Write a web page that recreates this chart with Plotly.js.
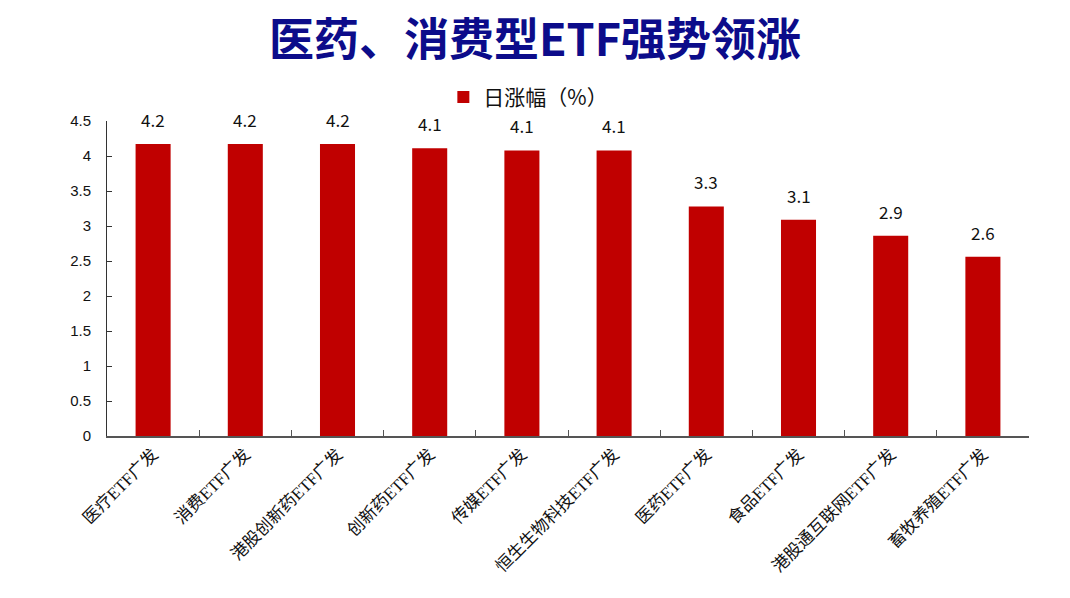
<!DOCTYPE html>
<html>
<head>
<meta charset="utf-8">
<script src="https://cdn.plot.ly/plotly-3.0.1.min.js"></script>
<style>
  html, body { margin: 0; padding: 0; background: #fff; }
  #chart { width: 1070px; height: 598px; }
</style>
</head>
<body>
<div id="chart"></div>
<script>
// fund names and daily change (%)
const funds = [
  "医疗ETF广发", "消费ETF广发", "港股创新药ETF广发", "创新药ETF广发", "传媒ETF广发",
  "恒生生物科技ETF广发", "医药ETF广发", "食品ETF广发", "港股通互联网ETF广发", "畜牧养殖ETF广发"
];
const dailyChange = [4.17, 4.17, 4.17, 4.11, 4.08, 4.08, 3.28, 3.09, 2.86, 2.56];
const yTicks = [0, 0.5, 1, 1.5, 2, 2.5, 3, 3.5, 4, 4.5];

const data = [{
  type: "bar",
  x: funds,
  y: dailyChange,
  name: "日涨幅（%）",
  marker: { color: "#c00000" },
  hoverinfo: "x+y",
}];

// value labels sit a bit higher above the bars than plotly's own text
const labels = funds.map((f, i) => ({
  x: f,
  y: dailyChange[i],
  text: dailyChange[i].toFixed(1),
  showarrow: false,
  yanchor: "bottom",
  yshift: 10,
  font: { family: "Noto Sans CJK SC, sans-serif", size: 17, color: "#111" },
}));

const layout = {
  width: 1070,
  height: 598,
  margin: { l: 107, r: 41, t: 121, b: 162 },
  paper_bgcolor: "#fff",
  plot_bgcolor: "#fff",
  showlegend: true,
  bargap: 0.62,
  annotations: labels,
  title: {
    text: "<b>医药、消费型ETF强势领涨</b>",
    x: 0.5,
    xanchor: "center",
    y: 0.933,
    yanchor: "middle",
    font: { family: "Noto Sans CJK SC, sans-serif", size: 45, color: "#0c0c8a" },
  },
  legend: {
    orientation: "h",
    x: 0.457,
    xanchor: "center",
    y: 1.075,
    yanchor: "middle",
    font: { family: "Noto Sans CJK SC, sans-serif", size: 21, color: "#111" },
    itemwidth: 30,
  },
  xaxis: {
    type: "category",
    tickangle: -45,
    tickson: "boundaries",
    ticks: "inside",
    ticklen: 6,
    tickcolor: "#555",
    showline: true,
    linecolor: "#555",
    linewidth: 1.5,
    showgrid: false,
    tickfont: { family: "Liberation Serif, Noto Sans CJK SC, serif", size: 17, color: "#111" },
    automargin: false,
  },
  yaxis: {
    range: [0, 4.5],
    tickvals: yTicks,
    ticktext: yTicks.map(String),
    ticks: "inside",
    ticklen: 5,
    tickcolor: "#333",
    showline: true,
    linecolor: "#333",
    linewidth: 1,
    showgrid: false,
    zeroline: false,
    ticklabelstandoff: 12,
    tickfont: { family: "Liberation Sans, Arial, sans-serif", size: 15, color: "#111" },
  },
  font: { family: "Noto Sans CJK SC, sans-serif", color: "#111" },
};

Plotly.newPlot("chart", data, layout, { displayModeBar: false, responsive: false });
</script>
</body>
</html>
